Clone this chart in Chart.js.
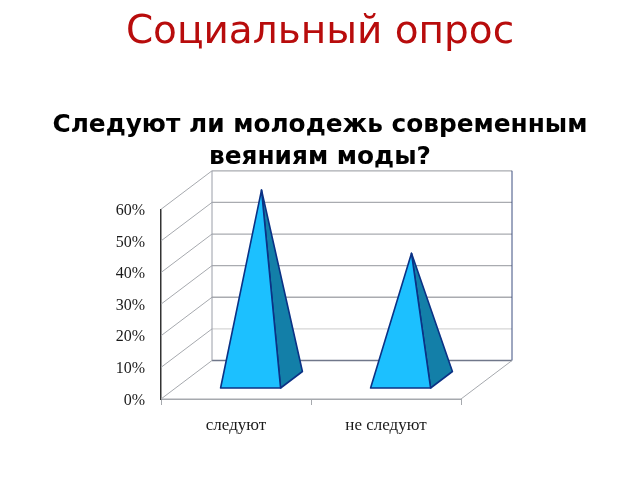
<!DOCTYPE html>
<html>
<head>
<meta charset="utf-8">
<title>Социальный опрос</title>
<script src="https://cdn.jsdelivr.net/npm/chart.js@4"></script>
<style>
  html, body { margin: 0; padding: 0; background: #fff; }
  #wrap { width: 640px; height: 480px; }
</style>
</head>
<body>
<div id="wrap"><canvas id="myChart" width="640" height="480"></canvas></div>
<script>
// Data
var categories = ['следуют', 'не следуют'];
var percentValues = [60, 40];
var chartTitle = 'Социальный опрос';
var chartSubtitle = ['Следуют ли молодежь современным', 'веяниям моды?'];

// Depth of the fake 3D box, in pixels
var depthX = 51;
var depthY = 38.5;

// Draws the box walls behind the pyramids, from the y scale ticks
var wallsPlugin = {
    id: 'walls',
    beforeDatasetsDraw: function (chart) {
        var ctx = chart.ctx;
        var y = chart.scales.y;
        var left = chart.chartArea.left;
        var right = chart.chartArea.right;
        var zero = y.getPixelForValue(0);

        ctx.save();
        ctx.lineWidth = 1;

        // lines on the side wall and the back wall
        y.ticks.forEach(function (tick) {
            var py = y.getPixelForValue(tick.value);
            ctx.strokeStyle = '#a6a9ae';
            ctx.beginPath();
            ctx.moveTo(left, py);
            ctx.lineTo(left + depthX, py - depthY);
            ctx.stroke();
            ctx.lineWidth = 1.3;
            ctx.strokeStyle = tick.value === 0 ? '#70778a' : (tick.value === 10 ? '#d6d6d6' : '#a9abb0');
            ctx.beginPath();
            ctx.moveTo(left + depthX, py - depthY);
            ctx.lineTo(right + depthX, py - depthY);
            ctx.stroke();
            ctx.lineWidth = 1;
        });

        // back wall edges
        ctx.strokeStyle = '#9a9ea8';
        ctx.beginPath();
        ctx.moveTo(left + depthX, y.getPixelForValue(60) - depthY);
        ctx.lineTo(left + depthX, zero - depthY);
        ctx.stroke();
        ctx.strokeStyle = '#3c4f80';
        ctx.beginPath();
        ctx.moveTo(right + depthX, y.getPixelForValue(60) - depthY);
        ctx.lineTo(right + depthX, zero - depthY);
        ctx.stroke();

        // floor
        ctx.strokeStyle = '#a6a9ae';
        ctx.beginPath();
        ctx.moveTo(left, zero);
        ctx.lineTo(right, zero);
        ctx.lineTo(right + depthX, zero - depthY);
        ctx.stroke();
        ctx.restore();
    }
};

// Turns each bar into a pyramid standing on the floor of the box
var pyramidPlugin = {
    id: 'pyramids',
    afterDatasetsDraw: function (chart) {
        var ctx = chart.ctx;
        var y = chart.scales.y;
        var zero = y.getPixelForValue(0);
        var meta = chart.getDatasetMeta(0);

        meta.data.forEach(function (bar) {
            var half = bar.width / 2;
            var frontDepth = 0.286;
            var backDepth = 0.714;
            var frontX = bar.x + depthX * frontDepth;
            var frontY = zero - depthY * frontDepth;
            var backX = bar.x + depthX * backDepth + half;
            var backY = zero - depthY * backDepth;
            var apexX = bar.x + depthX * 0.5;
            var apexY = bar.y - depthY * 0.5;

            ctx.save();
            ctx.lineJoin = 'round';
            ctx.lineWidth = 1.6;
            ctx.strokeStyle = '#0b3285';

            // side face
            ctx.fillStyle = '#137fa8';
            ctx.beginPath();
            ctx.moveTo(frontX + half, frontY);
            ctx.lineTo(backX, backY);
            ctx.lineTo(apexX, apexY);
            ctx.closePath();
            ctx.fill();
            ctx.stroke();

            // front face
            ctx.fillStyle = '#1cc0ff';
            ctx.beginPath();
            ctx.moveTo(frontX - half, frontY);
            ctx.lineTo(frontX + half, frontY);
            ctx.lineTo(apexX, apexY);
            ctx.closePath();
            ctx.fill();
            ctx.stroke();
            ctx.restore();
        });
    }
};

var ctx1 = document.getElementById('myChart').getContext('2d');
var myChart = new Chart(ctx1, {
    type: 'bar',
    data: {
        labels: categories,
        datasets: [{
            label: 'Ответы',
            data: percentValues,
            backgroundColor: 'rgba(0, 0, 0, 0)',
            borderWidth: 0,
            barPercentage: 0.4,
            categoryPercentage: 1,
        }],
    },
    options: {
        responsive: false,
        animation: false,
        devicePixelRatio: 1,
        plugins: {
            legend: { display: false },
            tooltip: { enabled: false },
            title: {
                display: true,
                text: chartTitle,
                color: '#b80c0c',
                font: { family: 'DejaVu Sans', size: 39, weight: 'normal' },
                padding: { top: 9, bottom: 54 },
            },
            subtitle: {
                display: true,
                text: chartSubtitle,
                color: '#000000',
                font: { family: 'DejaVu Sans', size: 24.8, weight: 'bold', lineHeight: 1.28 },
                padding: { top: 0, bottom: 36 },
            },
        },
        scales: {
            x: {
                afterFit: function (scale) { scale.height = 81; },
                border: { color: '#a6a9ae' },
                grid: { drawOnChartArea: false, color: '#a6a9ae', tickLength: 6 },
                ticks: {
                    color: '#1a1a1a',
                    padding: 10,
                    maxRotation: 0,
                    font: { family: 'Liberation Serif', size: 17 },
                },
            },
            y: {
                min: 0,
                max: 60,
                afterFit: function (scale) { scale.width = 161; },
                border: { color: '#333333', width: 1.5 },
                grid: { drawOnChartArea: false, drawTicks: false },
                ticks: {
                    stepSize: 10,
                    color: '#1a1a1a',
                    padding: 16,
                    labelOffset: 1.5,
                    font: { family: 'Liberation Serif', size: 16 },
                    callback: function (value) { return value + '%'; },
                },
            },
            // empty axis, only keeps the gap right of the plot so the titles stay centred on the page
            gap: {
                position: 'right',
                afterFit: function (scale) { scale.width = 179; },
                border: { display: false },
                grid: { display: false },
                ticks: { display: false },
            },
        },
    },
    plugins: [wallsPlugin, pyramidPlugin],
});
</script>
</body>
</html>
